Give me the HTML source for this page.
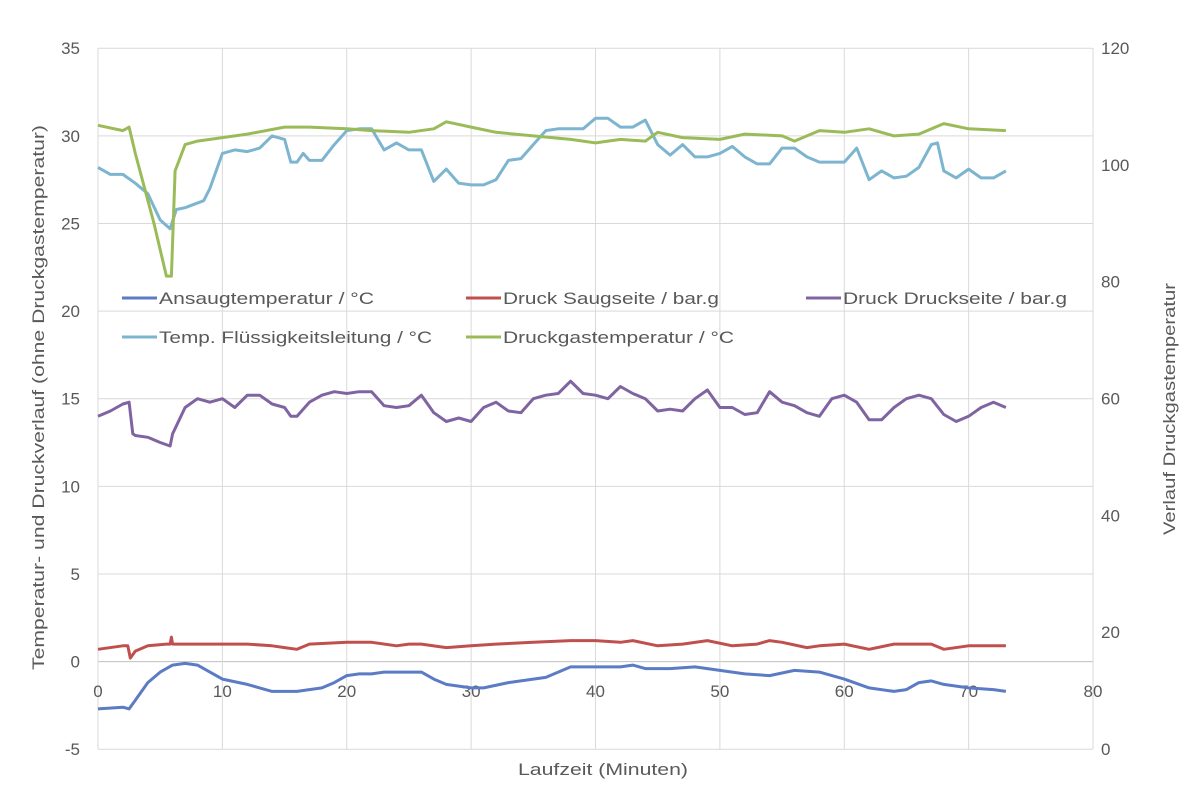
<!DOCTYPE html>
<html><head><meta charset="utf-8"><style>
body{margin:0;background:#fff;}
svg{display:block;font-family:"Liberation Sans",sans-serif;}
.t{fill:#595959;font-size:17px;}
</style></head><body>
<svg id="s" width="1200" height="800" xmlns="http://www.w3.org/2000/svg"></svg>
<script>
const s=document.getElementById('s');
const X=t=>98+12.4375*t, Y=v=>661.6-17.525*v;
let h='';
for(let v=-5;v<=35;v+=5){h+=`<line x1="98" x2="1093" y1="${Y(v)}" y2="${Y(v)}" stroke="${v==0?'#bfbfbf':'#d9d9d9'}" stroke-width="1"/>`;
h+=`<text class="t" x="80" y="${Y(v)+6}" text-anchor="end">${v}</text>`;}
for(let t=0;t<=80;t+=10){h+=`<line x1="${X(t)}" x2="${X(t)}" y1="48" y2="749" stroke="#d9d9d9"/>`;
h+=`<text class="t" x="${X(t)}" y="697" text-anchor="middle">${t}</text>`;}
for(let r=0;r<=120;r+=20){const y=749-701*r/120;h+=`<text class="t" x="1101" y="${y+6}">${r}</text>`;}
h+=`<text class="t" x="518" y="775" font-size="18" textLength="170" lengthAdjust="spacingAndGlyphs">Laufzeit (Minuten)</text>`;
h+=`<text class="t" transform="translate(44,670) rotate(-90)" font-size="18" textLength="545" lengthAdjust="spacingAndGlyphs">Temperatur- und Druckverlauf (ohne Druckgastemperatur)</text>`;
h+=`<text class="t" transform="translate(1175,535) rotate(-90)" font-size="18" textLength="252" lengthAdjust="spacingAndGlyphs">Verlauf Druckgastemperatur</text>`;
function P(d,c){h+=`<polyline fill="none" stroke="${c}" stroke-width="3" stroke-linejoin="round" points="${d.map(p=>X(p[0]).toFixed(1)+','+Y(p[1]).toFixed(1)).join(' ')}"/>`;}
const db=[[0,-2.7],[2,-2.6],[2.5,-2.7],[3,-2.2],[4,-1.2],[5,-0.6],[6,-0.2],[7,-0.1],[8,-0.2],[9,-0.6],[10,-1],[12,-1.3],[13,-1.5],[14,-1.7],[16,-1.7],[17,-1.6],[18,-1.5],[19,-1.2],[20,-0.8],[21,-0.7],[22,-0.7],[23,-0.6],[26,-0.6],[27,-1],[28,-1.3],[30,-1.5],[31,-1.5],[33,-1.2],[35,-1.0],[36,-0.9],[37,-0.6],[38,-0.3],[40,-0.3],[42,-0.3],[43,-0.2],[44,-0.4],[46,-0.4],[48,-0.3],[50,-0.5],[52,-0.7],[54,-0.8],[56,-0.5],[58,-0.6],[60,-1.0],[62,-1.5],[64,-1.7],[65,-1.6],[66,-1.2],[67,-1.1],[68,-1.3],[70,-1.5],[72,-1.6],[73,-1.7]];
const rd=[[0,0.7],[2,0.9],[2.4,0.9],[2.6,0.2],[3,0.6],[4,0.9],[5.5,1.0],[5.8,1.0],[5.9,1.4],[6,1.0],[7,1.0],[10,1.0],[12,1.0],[14,0.9],[15,0.8],[16,0.7],[17,1.0],[20,1.1],[22,1.1],[24,0.9],[25,1.0],[26,1.0],[28,0.8],[30,0.9],[32,1.0],[35,1.1],[38,1.2],[40,1.2],[42,1.1],[43,1.2],[45,0.9],[47,1.0],[49,1.2],[51,0.9],[53,1.0],[54,1.2],[55,1.1],[57,0.8],[58,0.9],[60,1.0],[62,0.7],[64,1.0],[67,1.0],[68,0.7],[70,0.9],[73,0.9]];
const pu=[[0,14],[1,14.3],[2,14.7],[2.5,14.8],[2.8,13],[3,12.9],[4,12.8],[5,12.5],[5.8,12.3],[6,13],[7,14.5],[8,15],[9,14.8],[10,15],[11,14.5],[12,15.2],[13,15.2],[14,14.7],[15,14.5],[15.5,14],[16,14],[17,14.8],[18,15.2],[19,15.4],[20,15.3],[21,15.4],[22,15.4],[23,14.6],[24,14.5],[25,14.6],[26,15.2],[27,14.2],[28,13.7],[29,13.9],[30,13.7],[31,14.5],[32,14.8],[33,14.3],[34,14.2],[35,15],[36,15.2],[37,15.3],[38,16],[39,15.3],[40,15.2],[41,15],[42,15.7],[43,15.3],[44,15],[45,14.3],[46,14.4],[47,14.3],[48,15],[49,15.5],[50,14.5],[51,14.5],[52,14.1],[53,14.2],[54,15.4],[55,14.8],[56,14.6],[57,14.2],[58,14],[59,15],[60,15.2],[61,14.8],[62,13.8],[63,13.8],[64,14.5],[65,15],[66,15.2],[67,15],[68,14.1],[69,13.7],[70,14],[71,14.5],[72,14.8],[73,14.5]];
const lb=[[0,28.2],[1,27.8],[2,27.8],[3,27.3],[4,26.7],[5,25.2],[5.8,24.7],[6.3,25.8],[7,25.9],[8.5,26.3],[9,27],[10,29],[11,29.2],[12,29.1],[13,29.3],[14,30],[15,29.8],[15.5,28.5],[16,28.5],[16.5,29],[17,28.6],[18,28.6],[19,29.5],[20,30.3],[21,30.4],[22,30.4],[23,29.2],[24,29.6],[25,29.2],[26,29.2],[27,27.4],[28,28.1],[29,27.3],[30,27.2],[31,27.2],[32,27.5],[33,28.6],[34,28.7],[35,29.5],[36,30.3],[37,30.4],[39,30.4],[40,31.0],[41,31.0],[42,30.5],[43,30.5],[44,30.9],[45,29.5],[46,28.9],[47,29.5],[48,28.8],[49,28.8],[50,29],[51,29.4],[52,28.8],[53,28.4],[54,28.4],[55,29.3],[56,29.3],[57,28.8],[58,28.5],[60,28.5],[61,29.3],[62,27.5],[63,28],[64,27.6],[65,27.7],[66,28.2],[67,29.5],[67.5,29.6],[68,28],[69,27.6],[70,28.1],[71,27.6],[72,27.6],[73,28]];
const gr=[[0,30.6],[2,30.3],[2.5,30.5],[3,29],[4.5,25],[5.5,22],[5.9,22],[6.2,28],[7,29.5],[8,29.7],[10,29.9],[12,30.1],[15,30.5],[17,30.5],[20,30.4],[22,30.3],[25,30.2],[27,30.4],[28,30.8],[30,30.5],[32,30.2],[35,30],[38,29.8],[40,29.6],[42,29.8],[44,29.7],[45,30.2],[47,29.9],[50,29.8],[52,30.1],[55,30.0],[56,29.7],[58,30.3],[60,30.2],[62,30.4],[64,30.0],[66,30.1],[68,30.7],[70,30.4],[73,30.3]];
P(db,'#5b7bc4');P(rd,'#c0504d');P(pu,'#8064a2');P(lb,'#7db5d0');P(gr,'#9bbb59');
function L(x,y,c,txt,w){h+=`<line x1="${x}" x2="${x+35}" y1="${y}" y2="${y}" stroke="${c}" stroke-width="3"/><text class="t" x="${x+37}" y="${y+6}" font-size="19" textLength="${w}" lengthAdjust="spacingAndGlyphs">${txt}</text>`;}
L(122,298,'#5b7bc4','Ansaugtemperatur / °C',215);L(466,298,'#c0504d','Druck Saugseite / bar.g',216);L(806,298,'#8064a2','Druck Druckseite / bar.g',224);
L(122,337,'#7db5d0','Temp. Flüssigkeitsleitung / °C',273);L(466,337,'#9bbb59','Druckgastemperatur / °C',231);
s.innerHTML=h;
</script>
</body></html>
